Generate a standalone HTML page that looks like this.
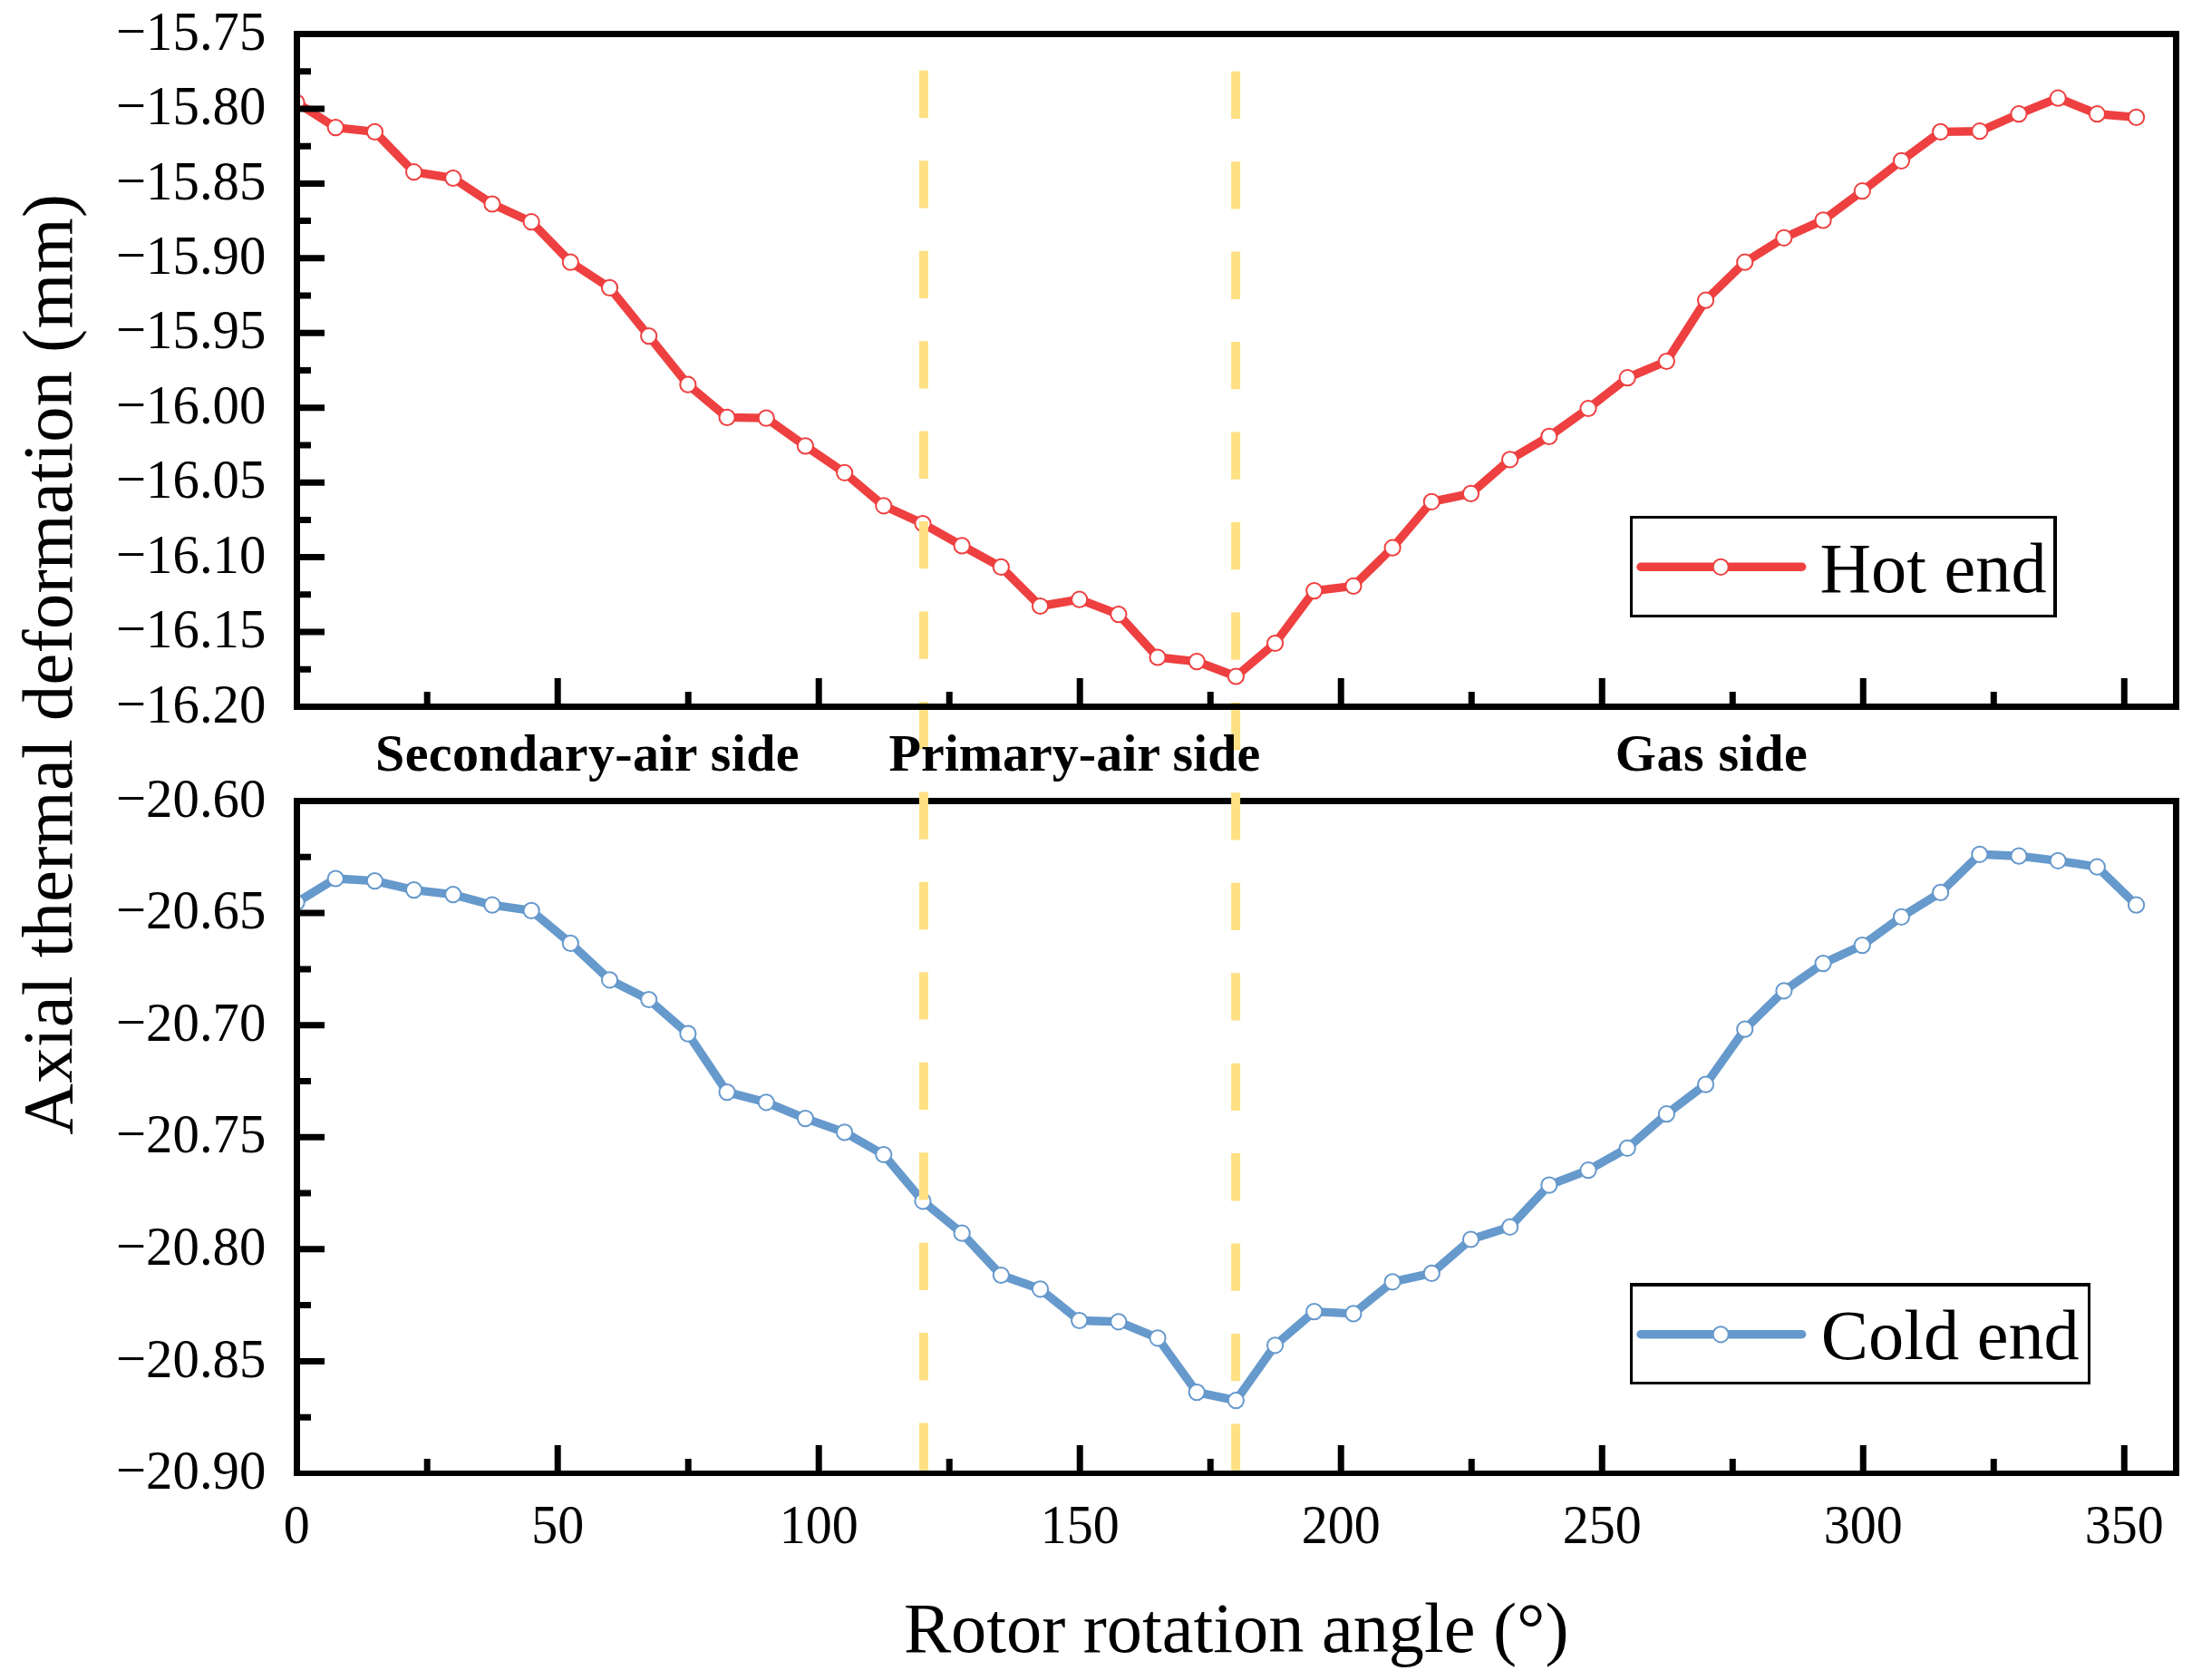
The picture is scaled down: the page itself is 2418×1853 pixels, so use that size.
<!DOCTYPE html>
<html lang="en"><head><meta charset="utf-8"><title>Axial thermal deformation vs rotor rotation angle</title>
<style>
html,body{margin:0;padding:0;background:#fff;}
body{width:2418px;height:1853px;overflow:hidden;font-family:"Liberation Serif", serif;}
svg{display:block}
</style></head><body>
<svg width="2418" height="1853" viewBox="0 0 2418 1853">
<rect width="2418" height="1853" fill="#fff"/>
<defs><clipPath id="ct"><rect x="327.5" y="37.5" width="2073" height="742"/></clipPath><clipPath id="cb"><rect x="327.5" y="883.5" width="2073" height="741.5"/></clipPath></defs>
<g id="cold" clip-path="url(#cb)">
<polyline points="327.07,995.5 370.25,969 413.43,971.6 456.61,981.6 499.79,986.6 542.97,998.2 586.15,1004.4 629.33,1040.4 672.51,1080.8 715.69,1102.5 758.87,1140.1 802.05,1204.6 845.23,1215.8 888.41,1233.6 931.59,1248.9 974.77,1273.5 1017.95,1324.8 1061.13,1360.2 1104.31,1406.5 1147.49,1421.8 1190.67,1456.5 1233.85,1457.8 1277.03,1475.8 1320.21,1535.6 1363.39,1544.7 1406.58,1483.8 1449.76,1446.6 1492.94,1448.9 1536.12,1413.8 1579.3,1404.4 1622.48,1367 1665.66,1353.3 1708.84,1307.1 1752.02,1290.7 1795.2,1266.3 1838.38,1228.7 1881.56,1196.1 1924.74,1135.2 1967.92,1092.8 2011.1,1062.6 2054.28,1042.6 2097.46,1011.3 2140.64,984.4 2183.82,942.3 2227,944.2 2270.18,949.3 2313.36,956.2 2356.54,998.2" fill="none" stroke="#6699CC" stroke-width="9.4" stroke-linejoin="round" stroke-linecap="round"/>
<g fill="#fff" stroke="#6699CC" stroke-width="2.0">
<circle cx="327.07" cy="995.5" r="8.6"/><circle cx="370.25" cy="969" r="8.6"/><circle cx="413.43" cy="971.6" r="8.6"/><circle cx="456.61" cy="981.6" r="8.6"/><circle cx="499.79" cy="986.6" r="8.6"/><circle cx="542.97" cy="998.2" r="8.6"/>
<circle cx="586.15" cy="1004.4" r="8.6"/><circle cx="629.33" cy="1040.4" r="8.6"/><circle cx="672.51" cy="1080.8" r="8.6"/><circle cx="715.69" cy="1102.5" r="8.6"/><circle cx="758.87" cy="1140.1" r="8.6"/><circle cx="802.05" cy="1204.6" r="8.6"/>
<circle cx="845.23" cy="1215.8" r="8.6"/><circle cx="888.41" cy="1233.6" r="8.6"/><circle cx="931.59" cy="1248.9" r="8.6"/><circle cx="974.77" cy="1273.5" r="8.6"/><circle cx="1017.95" cy="1324.8" r="8.6"/><circle cx="1061.13" cy="1360.2" r="8.6"/>
<circle cx="1104.31" cy="1406.5" r="8.6"/><circle cx="1147.49" cy="1421.8" r="8.6"/><circle cx="1190.67" cy="1456.5" r="8.6"/><circle cx="1233.85" cy="1457.8" r="8.6"/><circle cx="1277.03" cy="1475.8" r="8.6"/><circle cx="1320.21" cy="1535.6" r="8.6"/>
<circle cx="1363.39" cy="1544.7" r="8.6"/><circle cx="1406.58" cy="1483.8" r="8.6"/><circle cx="1449.76" cy="1446.6" r="8.6"/><circle cx="1492.94" cy="1448.9" r="8.6"/><circle cx="1536.12" cy="1413.8" r="8.6"/><circle cx="1579.3" cy="1404.4" r="8.6"/>
<circle cx="1622.48" cy="1367" r="8.6"/><circle cx="1665.66" cy="1353.3" r="8.6"/><circle cx="1708.84" cy="1307.1" r="8.6"/><circle cx="1752.02" cy="1290.7" r="8.6"/><circle cx="1795.2" cy="1266.3" r="8.6"/><circle cx="1838.38" cy="1228.7" r="8.6"/>
<circle cx="1881.56" cy="1196.1" r="8.6"/><circle cx="1924.74" cy="1135.2" r="8.6"/><circle cx="1967.92" cy="1092.8" r="8.6"/><circle cx="2011.1" cy="1062.6" r="8.6"/><circle cx="2054.28" cy="1042.6" r="8.6"/><circle cx="2097.46" cy="1011.3" r="8.6"/>
<circle cx="2140.64" cy="984.4" r="8.6"/><circle cx="2183.82" cy="942.3" r="8.6"/><circle cx="2227" cy="944.2" r="8.6"/><circle cx="2270.18" cy="949.3" r="8.6"/><circle cx="2313.36" cy="956.2" r="8.6"/><circle cx="2356.54" cy="998.2" r="8.6"/>

</g>
</g>
<path fill="#000" fill-rule="evenodd" d="M324,880H2404V1628H324ZM331,887V1622H2397V887Z"/>
<g stroke="#000" fill="none" stroke-width="7">
<path d="M330,945.29H343M330,1007.08H358M330,1068.88H343M330,1130.67H358M330,1192.46H343M330,1254.25H358M330,1316.04H343M330,1377.83H358M330,1439.62H343M330,1501.42H358M330,1563.21H343M471.2,1623V1609M615.21,1623V1594M759.22,1623V1609M903.22,1623V1594M1047.22,1623V1609M1191.23,1623V1594M1335.24,1623V1609M1479.24,1623V1594M1623.25,1623V1609M1767.25,1623V1594M1911.26,1623V1609M2055.26,1623V1594M2199.26,1623V1609M2343.27,1623V1594"/>
</g>
<g id="hot" clip-path="url(#ct)">
<polyline points="327.07,113 370.25,140.6 413.43,145.4 456.61,189.7 499.79,196.5 542.97,225 586.15,244.7 629.33,289.1 672.51,317.4 715.69,370.6 758.87,424.2 802.05,460.4 845.23,461.1 888.41,491.9 931.59,521.3 974.77,557.8 1017.95,577.5 1061.13,601.9 1104.31,625.4 1147.49,668.5 1190.67,661.2 1233.85,677.6 1277.03,725 1320.21,729.6 1363.39,746 1406.58,709.5 1449.76,651.6 1492.94,646.4 1536.12,604.2 1579.3,553.3 1622.48,544.4 1665.66,506.8 1708.84,481.4 1752.02,450.5 1795.2,416.7 1838.38,398.5 1881.56,331.2 1924.74,289.2 1967.92,262.3 2011.1,242.9 2054.28,210.7 2097.46,177.3 2140.64,145.4 2183.82,144.7 2227,125.7 2270.18,108.2 2313.36,125.7 2356.54,129.4" fill="none" stroke="#EE4040" stroke-width="9.4" stroke-linejoin="round" stroke-linecap="round"/>
<g fill="#fff" stroke="#EE4040" stroke-width="2.0">
<circle cx="327.07" cy="113" r="8.6"/><circle cx="370.25" cy="140.6" r="8.6"/><circle cx="413.43" cy="145.4" r="8.6"/><circle cx="456.61" cy="189.7" r="8.6"/><circle cx="499.79" cy="196.5" r="8.6"/><circle cx="542.97" cy="225" r="8.6"/>
<circle cx="586.15" cy="244.7" r="8.6"/><circle cx="629.33" cy="289.1" r="8.6"/><circle cx="672.51" cy="317.4" r="8.6"/><circle cx="715.69" cy="370.6" r="8.6"/><circle cx="758.87" cy="424.2" r="8.6"/><circle cx="802.05" cy="460.4" r="8.6"/>
<circle cx="845.23" cy="461.1" r="8.6"/><circle cx="888.41" cy="491.9" r="8.6"/><circle cx="931.59" cy="521.3" r="8.6"/><circle cx="974.77" cy="557.8" r="8.6"/><circle cx="1017.95" cy="577.5" r="8.6"/><circle cx="1061.13" cy="601.9" r="8.6"/>
<circle cx="1104.31" cy="625.4" r="8.6"/><circle cx="1147.49" cy="668.5" r="8.6"/><circle cx="1190.67" cy="661.2" r="8.6"/><circle cx="1233.85" cy="677.6" r="8.6"/><circle cx="1277.03" cy="725" r="8.6"/><circle cx="1320.21" cy="729.6" r="8.6"/>
<circle cx="1363.39" cy="746" r="8.6"/><circle cx="1406.58" cy="709.5" r="8.6"/><circle cx="1449.76" cy="651.6" r="8.6"/><circle cx="1492.94" cy="646.4" r="8.6"/><circle cx="1536.12" cy="604.2" r="8.6"/><circle cx="1579.3" cy="553.3" r="8.6"/>
<circle cx="1622.48" cy="544.4" r="8.6"/><circle cx="1665.66" cy="506.8" r="8.6"/><circle cx="1708.84" cy="481.4" r="8.6"/><circle cx="1752.02" cy="450.5" r="8.6"/><circle cx="1795.2" cy="416.7" r="8.6"/><circle cx="1838.38" cy="398.5" r="8.6"/>
<circle cx="1881.56" cy="331.2" r="8.6"/><circle cx="1924.74" cy="289.2" r="8.6"/><circle cx="1967.92" cy="262.3" r="8.6"/><circle cx="2011.1" cy="242.9" r="8.6"/><circle cx="2054.28" cy="210.7" r="8.6"/><circle cx="2097.46" cy="177.3" r="8.6"/>
<circle cx="2140.64" cy="145.4" r="8.6"/><circle cx="2183.82" cy="144.7" r="8.6"/><circle cx="2227" cy="125.7" r="8.6"/><circle cx="2270.18" cy="108.2" r="8.6"/><circle cx="2313.36" cy="125.7" r="8.6"/><circle cx="2356.54" cy="129.4" r="8.6"/>

</g>
</g>
<line x1="1018.9" x2="1018.9" y1="77.8" y2="1621.8" stroke="#FFE083" stroke-width="10" stroke-dasharray="52.3 47.15"/>
<line x1="1363.1" x2="1363.1" y1="78.7" y2="1621.8" stroke="#FFE083" stroke-width="10" stroke-dasharray="52.3 47.15"/>
<path fill="#000" fill-rule="evenodd" d="M324,34H2404V783H324ZM331,41V776H2397V41Z"/>
<g stroke="#000" fill="none" stroke-width="7">
<path d="M330,78.72H343M330,119.94H358M330,161.17H343M330,202.39H358M330,243.61H343M330,284.83H358M330,326.06H343M330,367.28H358M330,408.5H343M330,449.72H358M330,490.94H343M330,532.17H358M330,573.39H343M330,614.61H358M330,655.83H343M330,697.06H358M330,738.28H343M471.2,777V763M615.21,777V748M759.22,777V763M903.22,777V748M1047.22,777V763M1191.23,777V748M1335.24,777V763M1479.24,777V748M1623.25,777V763M1767.25,777V748M1911.26,777V763M2055.26,777V748M2199.26,777V763M2343.27,777V748"/>
</g>
<g font-family='"Liberation Serif", serif' fill="#000">
<path fill="#000" fill-rule="evenodd" d="M1798,569H2269V681H1798ZM1801,572V678H2265V572Z"/>
<line x1="1810" x2="1987.7" y1="625.3" y2="625.3" stroke="#EE4040" stroke-width="9.4" stroke-linecap="round"/>
<circle cx="1898.2" cy="625.3" r="8.6" fill="#fff" stroke="#EE4040" stroke-width="2.0"/>
<text x="2007.5" y="652.6" font-size="78.3">Hot end</text>
<path fill="#000" fill-rule="evenodd" d="M1798,1415H2306V1527H1798ZM1801,1419V1524H2303V1419Z"/>
<line x1="1810" x2="1987.7" y1="1471.8" y2="1471.8" stroke="#6699CC" stroke-width="9.4" stroke-linecap="round"/>
<circle cx="1898.2" cy="1471.8" r="8.6" fill="#fff" stroke="#6699CC" stroke-width="2.0"/>
<text x="2008.8" y="1498.8" font-size="78.3">Cold end</text>
<g font-size="58" text-anchor="end">
<text transform="translate(293.4,54.7) scale(1.014,1.058)">−15.75</text>
<text transform="translate(293.4,137.14) scale(1.014,1.058)">−15.80</text>
<text transform="translate(293.4,219.59) scale(1.014,1.058)">−15.85</text>
<text transform="translate(293.4,302.03) scale(1.014,1.058)">−15.90</text>
<text transform="translate(293.4,384.48) scale(1.014,1.058)">−15.95</text>
<text transform="translate(293.4,466.92) scale(1.014,1.058)">−16.00</text>
<text transform="translate(293.4,549.37) scale(1.014,1.058)">−16.05</text>
<text transform="translate(293.4,631.81) scale(1.014,1.058)">−16.10</text>
<text transform="translate(293.4,714.26) scale(1.014,1.058)">−16.15</text>
<text transform="translate(293.4,796.7) scale(1.014,1.058)">−16.20</text>
<text transform="translate(293.4,900.7) scale(1.014,1.058)">−20.60</text>
<text transform="translate(293.4,1024.28) scale(1.014,1.058)">−20.65</text>
<text transform="translate(293.4,1147.87) scale(1.014,1.058)">−20.70</text>
<text transform="translate(293.4,1271.45) scale(1.014,1.058)">−20.75</text>
<text transform="translate(293.4,1395.03) scale(1.014,1.058)">−20.80</text>
<text transform="translate(293.4,1518.62) scale(1.014,1.058)">−20.85</text>
<text transform="translate(293.4,1642.2) scale(1.014,1.058)">−20.90</text>
</g>
<g font-size="58" text-anchor="middle">
<text transform="translate(327.2,1701.7) scale(1,1.058)">0</text>
<text transform="translate(615.21,1701.7) scale(1,1.058)">50</text>
<text transform="translate(903.22,1701.7) scale(1,1.058)">100</text>
<text transform="translate(1191.23,1701.7) scale(1,1.058)">150</text>
<text transform="translate(1479.24,1701.7) scale(1,1.058)">200</text>
<text transform="translate(1767.25,1701.7) scale(1,1.058)">250</text>
<text transform="translate(2055.26,1701.7) scale(1,1.058)">300</text>
<text transform="translate(2343.27,1701.7) scale(1,1.058)">350</text>
</g>
<g font-size="58" font-weight="bold">
<text x="414.1" y="850.2" letter-spacing="0.36">Secondary-air side</text>
<text x="980.5" y="850.2">Primary-air side</text>
<text x="1781.8" y="850.2" letter-spacing="0.6">Gas side</text>
</g>
<text x="1363.7" y="1821.8" font-size="78.3" text-anchor="middle">Rotor rotation angle (°)</text>
<text transform="translate(79.3,732.7) rotate(-90)" font-size="78.3" letter-spacing="0.32" text-anchor="middle">Axial thermal deformation (mm)</text>
</g>
</svg>
</body></html>
